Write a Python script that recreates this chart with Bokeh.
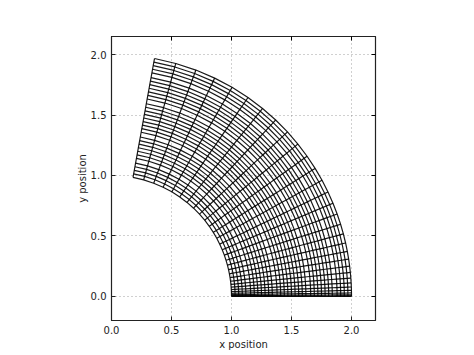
import math
from bokeh.plotting import figure
from bokeh.embed import file_html
from bokeh.resources import INLINE
from bokeh.models import LinearAxis, FixedTicker, Range1d, NumeralTickFormatter

# Angles of the spokes (degrees)
theta_deg = [0.0, 0.09, 0.35, 0.8, 1.42, 2.21, 3.19, 4.34, 5.67, 7.17, 8.86, 10.71, 12.75,
             14.96, 17.35, 19.92, 22.66, 25.58, 28.69, 31.96, 35.42, 39.05, 42.85, 46.84,
             51.0, 55.34, 59.85, 64.54, 69.41, 74.46, 79.68]
# Radii of the arcs
radii = [1.0, 1.03, 1.06, 1.09, 1.12, 1.16, 1.19, 1.22, 1.25, 1.28, 1.31, 1.34, 1.38, 1.41,
         1.44, 1.47, 1.5, 1.53, 1.56, 1.59, 1.62, 1.66, 1.69, 1.72, 1.75, 1.78, 1.81, 1.84,
         1.88, 1.91, 1.94, 1.97, 2.0]
x_ticks = [0.0, 0.5, 1.0, 1.5, 2.0]
y_ticks = [0.0, 0.5, 1.0, 1.5, 2.0]
x_limits = (0.0, 2.2)
y_limits = (-0.2, 2.15)

p = figure(width=470, height=352, output_backend="svg", toolbar_location=None,
           x_range=Range1d(*x_limits), y_range=Range1d(*y_limits),
           min_border_left=111, min_border_right=95, min_border_top=36, min_border_bottom=32)
p.background_fill_color = "white"
p.outline_line_color = "#222222"
p.outline_line_width = 1.2

bottom = p.xaxis[0]
left = p.yaxis[0]
for ax, ticks, label in ((bottom, x_ticks, "x position"), (left, y_ticks, "y position")):
    ax.ticker = FixedTicker(ticks=ticks)
    ax.formatter = NumeralTickFormatter(format="0.0")
    ax.major_tick_in = 4
    ax.major_tick_out = 0
    ax.minor_tick_line_color = None
    ax.axis_line_color = "#222222"
    ax.major_tick_line_color = "#222222"
    ax.major_label_text_font = "DejaVu Sans"
    ax.major_label_text_font_size = "10px"
    ax.major_label_text_color = "#222222"
    ax.major_label_standoff = 5
    ax.axis_label = label
    ax.axis_label_text_font = "DejaVu Sans"
    ax.axis_label_text_font_style = "normal"
    ax.axis_label_text_font_size = "10px"
    ax.axis_label_text_color = "#222222"
    ax.axis_label_standoff = 2
left.axis_label_standoff = 0

top = LinearAxis(ticker=FixedTicker(ticks=x_ticks), major_tick_in=4, major_tick_out=0,
                 minor_tick_line_color=None, major_label_text_color=None,
                 major_label_text_font_size="0px", axis_line_color="#222222")
right = LinearAxis(ticker=FixedTicker(ticks=y_ticks), major_tick_in=4, major_tick_out=0,
                   minor_tick_line_color=None, major_label_text_color=None,
                   major_label_text_font_size="0px", axis_line_color="#222222")
p.add_layout(top, "above")
p.add_layout(right, "right")

for g, t in ((p.xgrid[0], x_ticks), (p.ygrid[0], y_ticks)):
    g.ticker = FixedTicker(ticks=t)
    g.grid_line_color = "#777777"
    g.grid_line_dash = "1 3"
    g.grid_line_width = 1
    g.grid_line_alpha = 0.7

th = [math.radians(t) for t in theta_deg]
arc_x = [[r * math.cos(a) for a in th] for r in radii]
arc_y = [[r * math.sin(a) for a in th] for r in radii]
spoke_x = [[r * math.cos(a) for r in radii] for a in th]
spoke_y = [[r * math.sin(a) for r in radii] for a in th]
p.multi_line(arc_x + spoke_x, arc_y + spoke_y, line_color="black", line_width=1.2, line_alpha=0.9)

open("out.html", "w").write(file_html(p, INLINE))
